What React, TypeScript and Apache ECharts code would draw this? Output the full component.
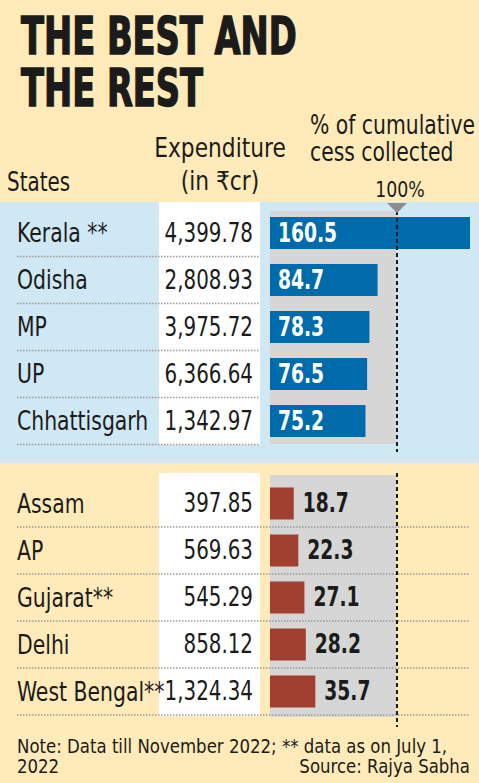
import React, { useEffect, useRef } from "react";
import * as echarts from "echarts";

const topStates = ["Kerala **", "Odisha", "MP", "UP", "Chhattisgarh"];
const topExpenditure = ["4,399.78", "2,808.93", "3,975.72", "6,366.64", "1,342.97"];
const topCess = [160.5, 84.7, 78.3, 76.5, 75.2];

const bottomStates = ["Assam", "AP", "Gujarat**", "Delhi", "West Bengal**"];
const bottomExpenditure = ["397.85", "569.63", "545.29", "858.12", "1,324.34"];
const bottomCess = [18.7, 22.3, 27.1, 28.2, 35.7];

const FONT = '"DejaVu Sans Condensed", "DejaVu Sans", sans-serif';
const DARK = "#1b1b1b";
const YELLOW = "#FEEBB9";
const BLUE_BG = "#D0E7F4";
const GRAY = "#D6D6D6";

const W = 479;
const H = 783;
const GRID_LEFT = 270;
const GRID_W = 200;
const ROW_H = 47;
const TOP_GRID_Y = 209.5;
const BOT_GRID_Y = 480;
const X_MAX = 157.5;

function txt(
  text: string,
  x: number,
  y: number,
  font: string,
  sx: number,
  align: string = "left",
  fill: string = DARK,
  extra: any = {}
) {
  return {
    type: "text",
    x,
    y,
    scaleX: sx,
    z: 30,
    style: { text, font, fill, align, verticalAlign: "middle", ...extra },
  };
}

export default function App() {
  const ref = useRef<HTMLDivElement>(null);
  useEffect(() => {
    if (!ref.current) return;
    const chart = echarts.init(ref.current, null, { renderer: "svg" });

    const yAxis = (states: string[], gi: number) => ({
      type: "category",
      gridIndex: gi,
      data: states,
      inverse: true,
      axisLine: { show: false },
      axisTick: { show: false },
      splitLine: { show: false },
      axisLabel: { show: false },
    });

    const sepLines = (gridTop: number, x2: number) =>
      [1, 2, 3, 4, 5].map((i) => ({
        type: "line",
        z: 5,
        shape: { x1: 17, y1: gridTop + ROW_H * i, x2, y2: gridTop + ROW_H * i },
        style: { stroke: "#9a9a9a", lineWidth: 1.5, lineDash: [1.5, 1.5] },
      }));

    const baseGraphic: any[] = [
      { type: "rect", z: -10, shape: { x: 0, y: 202, width: W, height: 261 }, style: { fill: BLUE_BG } },
      { type: "rect", z: -9, shape: { x: 159, y: 202, width: 101, height: 243 }, style: { fill: "#ffffff" } },
      { type: "rect", z: -9, shape: { x: 159, y: 473, width: 101, height: 243 }, style: { fill: "#ffffff" } },
      { type: "rect", z: -9, shape: { x: GRID_LEFT, y: 211, width: 126, height: 233 }, style: { fill: GRAY } },
      { type: "rect", z: -9, shape: { x: GRID_LEFT, y: 475, width: 126, height: 242 }, style: { fill: GRAY } },
      ...sepLines(TOP_GRID_Y, 260),
      ...sepLines(BOT_GRID_Y, 470),
      {
        type: "text",
        x: 21,
        y: 10,
        scaleX: 0.72,
        style: {
          text: "THE BEST AND\nTHE REST",
          font: `bold 52px ${FONT}`,
          lineHeight: 52,
          fill: DARK,
          stroke: DARK,
          lineWidth: 1.5,
        },
      },
      txt("States", 7, 182, `27px ${FONT}`, 0.82),
      txt("Expenditure", 220, 148, `26px ${FONT}`, 0.93, "center"),
      txt("(in ₹cr)", 220, 181, `26px ${FONT}`, 0.93, "center"),
      txt("% of cumulative", 310, 125, `26px ${FONT}`, 0.87),
      txt("cess collected", 310, 152, `26px ${FONT}`, 0.87),
      txt("Note: Data till November 2022; ** data as on July 1,", 17, 746, `19px ${FONT}`, 0.97),
      txt("2022", 17, 766, `19px ${FONT}`, 0.97),
      txt("Source: Rajya Sabha", 470, 766, `19px ${FONT}`, 0.97, "right"),
    ];

    chart.setOption({
      animation: false,
      backgroundColor: YELLOW,
      grid: [
        { left: GRID_LEFT, top: TOP_GRID_Y, width: GRID_W, height: ROW_H * 5 },
        { left: GRID_LEFT, top: BOT_GRID_Y, width: GRID_W, height: ROW_H * 5 },
      ],
      xAxis: [
        { type: "value", gridIndex: 0, min: 0, max: X_MAX, show: false },
        { type: "value", gridIndex: 1, min: 0, max: X_MAX, show: false },
      ],
      yAxis: [yAxis(topStates, 0), yAxis(bottomStates, 1)],
      series: [
        {
          type: "bar",
          xAxisIndex: 0,
          yAxisIndex: 0,
          data: topCess,
          barWidth: 32,
          clip: true,
          itemStyle: { color: "#006BAB" },
        },
        {
          type: "bar",
          xAxisIndex: 1,
          yAxisIndex: 1,
          data: bottomCess,
          barWidth: 32,
          clip: true,
          itemStyle: { color: "#A13F30" },
        },
      ],
      graphic: baseGraphic,
    });

    const labels: any[] = [];
    const addRows = (
      gi: number,
      states: string[],
      exps: string[],
      vals: number[],
      inside: boolean
    ) => {
      states.forEach((s, i) => {
        const [px, py] = chart.convertToPixel({ gridIndex: gi }, [Math.min(vals[i], X_MAX), i]) as number[];
        labels.push(txt(s, 17, py, `27px ${FONT}`, 0.84));
        labels.push(txt(exps[i], 253, py, `26px ${FONT}`, 0.85, "right"));
        const v = vals[i].toFixed(1);
        if (inside) {
          labels.push(txt(v, GRID_LEFT + 8, py, `bold 27px ${FONT}`, 0.77, "left", "#ffffff"));
        } else {
          labels.push(txt(v, px + 9, py, `bold 27px ${FONT}`, 0.77, "left", DARK));
        }
      });
    };
    addRows(0, topStates, topExpenditure, topCess, true);
    addRows(1, bottomStates, bottomExpenditure, bottomCess, false);

    const x100 = chart.convertToPixel({ xAxisIndex: 0 }, 100) as number;
    chart.setOption(
      {
        graphic: [
          ...baseGraphic,
          ...labels,
          {
            type: "line",
            z: 20,
            shape: { x1: x100, y1: 211, x2: x100, y2: 452 },
            style: { stroke: "#1b1b1b", lineWidth: 2, lineDash: [4, 3] },
          },
          {
            type: "line",
            z: 20,
            shape: { x1: x100, y1: 473, x2: x100, y2: 727 },
            style: { stroke: "#1b1b1b", lineWidth: 2, lineDash: [4, 3] },
          },
          {
            type: "polygon",
            z: 21,
            shape: { points: [[x100 - 10, 203], [x100 + 10, 203], [x100, 213]] },
            style: { fill: "#8C8C8C" },
          },
          txt("100%", x100 + 3, 190, `22px ${FONT}`, 0.875, "center"),
        ],
      },
      { replaceMerge: ["graphic"] }
    );

    return () => chart.dispose();
  }, []);

  return (
    <div
      ref={ref}
      style={{ position: "fixed", left: 0, top: 0, width: W, height: H }}
    />
  );
}
